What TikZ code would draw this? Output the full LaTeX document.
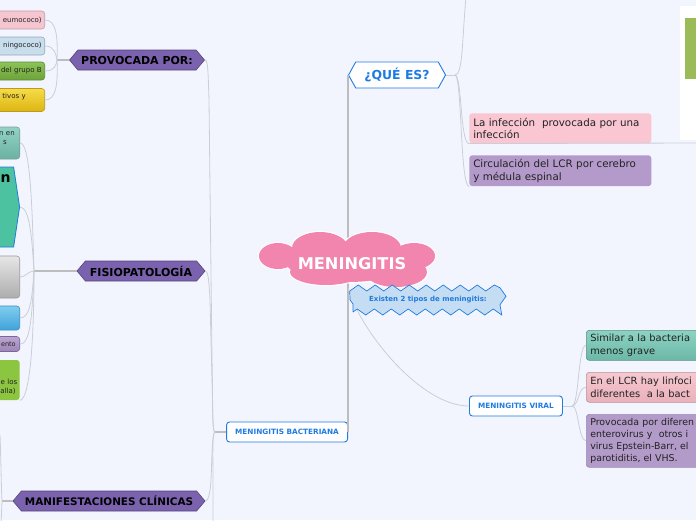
\documentclass[tikz,border=0pt]{standalone}
\usepackage{fontspec}
\setmainfont{DejaVu Sans}
\usetikzlibrary{shapes.symbols,shapes.geometric,decorations.pathmorphing}

\definecolor{fondo}{HTML}{F2F5FE}
\definecolor{rosa}{HTML}{F285AD}
\definecolor{azul}{HTML}{1F7BE0}
\definecolor{morado}{HTML}{7B62AE}
\definecolor{linea}{HTML}{CACED6}
\definecolor{tronco}{HTML}{BDBDBD}
\definecolor{celeste}{HTML}{C5DDF2}
\definecolor{texto}{HTML}{222222}
\definecolor{verde}{HTML}{9BBB59}

\tikzset{
  conn/.style={draw=linea, line width=0.8pt},
  trunk/.style={draw=tronco, line width=2pt},
  hexa/.style={signal, signal to=west and east, signal pointer angle=100, fill=morado,
    draw=morado!70!black, line width=0.6pt, font=\bfseries\fontsize{11}{13}\selectfont,
    minimum height=20pt, inner sep=0pt},
  azulbox/.style={rectangle, rounded corners=3pt, fill=white, draw=azul, line width=0.9pt,
    text=azul, font=\bfseries\fontsize{7.3}{9}\selectfont, minimum height=20pt, inner sep=0pt},
  chip/.style={rectangle, rounded corners=3pt, anchor=east, text width=72pt, align=right,
    inner sep=3pt, font=\fontsize{7}{9}\selectfont, line width=0.6pt, minimum height=18pt, text=texto},
  leaf/.style={rectangle, rounded corners=3pt, anchor=north west, align=left, inner sep=4pt,
    font=\fontsize{10.3}{12.5}\selectfont, text=texto, line width=0.6pt},
  puff/.style={fill=rosa}
}

\begin{document}
\begin{tikzpicture}[x=1pt,y=-1pt]

\useasboundingbox (0,0) rectangle (696,520);
\fill[fondo] (0,0) rectangle (696,520);
\clip (0,0) rectangle (696,520);

\fill[white] (680,6) rectangle (700,140);
\fill[verde] (685,18) rectangle (700,79);

% junctions and free ends
\coordinate (qj) at (455,75);
\coordinate (arriba) at (466,-3);
\coordinate (derecha) at (700,143);
\coordinate (bj) at (215,432);
\coordinate (abajo) at (213,525);
\coordinate (pj) at (57,60);
\coordinate (fj) at (34,271);
\coordinate (mj) at (2,501);
\coordinate (mup) at (0,435);
\coordinate (mdown) at (1,525);
\coordinate (vj) at (572,406);

% nodes
\node (que) [signal, signal to=west and east, signal pointer angle=122, fill=white, draw=azul,
  line width=0.9pt, text=azul, font=\bfseries\fontsize{12.4}{14}\selectfont,
  minimum width=97pt, minimum height=26pt, inner sep=0pt, anchor=west] at (348,75) {¿QUÉ ES?};
\node (inf) [leaf, fill={rgb,255:red,249;green,198;blue,209}, text width=174pt, minimum height=30pt]
  at (469,113) {La infección\ \ provocada por una\\infección};
\node (circ) [leaf, fill={rgb,255:red,180;green,154;blue,202}, text width=174pt, minimum height=30pt]
  at (469,155) {Circulación del LCR por cerebro\\y médula espinal};

\node (bact) [azulbox, minimum width=121pt, anchor=east] at (348,432) {MENINGITIS BACTERIANA};
\node (viral) [azulbox, minimum width=93pt, anchor=west] at (469,406) {MENINGITIS VIRAL};

\node (v1) [leaf, top color={rgb,255:red,141;green,211;blue,194}, bottom color={rgb,255:red,108;green,183;blue,166},
  draw={rgb,255:red,94;green,143;blue,134}, text width=150pt, minimum height=30pt,
  font=\fontsize{9.9}{12.5}\selectfont] at (586,330) {Similar a la bacteria\\menos grave};
\node (v2) [leaf, top color={rgb,255:red,247;green,201;blue,208}, bottom color={rgb,255:red,233;green,176;blue,186},
  draw={rgb,255:red,184;green,148;blue,154}, text width=150pt, minimum height=30pt,
  font=\fontsize{9.9}{12.5}\selectfont] at (586,372) {En el LCR hay linfoci\\diferentes\ \ a la bact};
\node (v3) [leaf, fill={rgb,255:red,179;green,155;blue,201}, draw={rgb,255:red,158;green,139;blue,184},
  text width=150pt, minimum height=53pt, font=\fontsize{9.4}{12}\selectfont]
  at (586,414) {Provocada por diferen\\enterovirus y\ \ otros i\\virus Epstein-Barr, el\\parotiditis, el VHS.};

\node (prov) [hexa, minimum width=135pt] at (137,60) {PROVOCADA POR:};
\node (fisio) [hexa, minimum width=128pt] at (141,271) {FISIOPATOLOGÍA};
\node (mani) [hexa, minimum width=192pt, font=\bfseries\fontsize{10.4}{12}\selectfont] at (109,501) {MANIFESTACIONES CLÍNICAS};

\node (p1) [chip, fill={rgb,255:red,246;green,198;blue,208}, draw={rgb,255:red,191;green,158;blue,166}]
  at (45,20) {eumococo)};
\node (p2) [chip, fill={rgb,255:red,201;green,222;blue,236}, draw={rgb,255:red,147;green,169;blue,186}]
  at (45,46) {ningococo)};
\node (p3) [chip, top color={rgb,255:red,140;green,196;blue,85}, bottom color={rgb,255:red,110;green,162;blue,58},
  draw={rgb,255:red,94;green,138;blue,58}] at (45,71) {del grupo B};
\node (p4) [chip, top color={rgb,255:red,245;green,220;blue,72}, bottom color={rgb,255:red,221;green,181;blue,18},
  draw={rgb,255:red,185;green,154;blue,32}, minimum height=23pt] at (45,100) {tivos y\rule{16pt}{0pt}\\\mbox{}};

\node (f1) [chip, top color={rgb,255:red,146;green,211;blue,197}, bottom color={rgb,255:red,106;green,178;blue,163},
  draw={rgb,255:red,122;green,159;blue,152}, minimum height=32pt, inner sep=5pt] at (20,143)
  {n en\\s\rule{8pt}{0pt}\\\mbox{}};
\node (f2) [signal, signal to=east, signal pointer angle=163, anchor=east,
  fill={rgb,255:red,76;green,194;blue,160}, draw=azul, line width=0.8pt,
  minimum width=100pt, minimum height=80pt] at (20,207) {};
\node (f2t) [anchor=west, font=\bfseries\fontsize{14}{16}\selectfont, text=black, inner sep=0pt] at (0.5,179) {n};
\node (f3) [chip, top color={rgb,255:red,230;green,230;blue,230}, bottom color={rgb,255:red,173;green,173;blue,173},
  draw={rgb,255:red,154;green,154;blue,154}, minimum height=42pt] at (20,277) {};
\node (f4) [chip, top color={rgb,255:red,127;green,205;blue,240}, bottom color={rgb,255:red,63;green,163;blue,217},
  draw={rgb,255:red,62;green,140;blue,192}, minimum height=24pt] at (20,318) {};
\node (f5) [chip, top color={rgb,255:red,188;green,165;blue,208}, bottom color={rgb,255:red,156;green,133;blue,184},
  draw={rgb,255:red,124;green,103;blue,154}, minimum height=15pt, inner sep=4pt,
  font=\fontsize{6.5}{8}\selectfont] at (20,344) {ento};
\node (f6) [chip, fill={rgb,255:red,140;green,197;blue,64}, minimum height=40pt, inner sep=2.5pt,
  font=\fontsize{7}{9.5}\selectfont] at (20,380) {\mbox{}\\\mbox{}\\e los\\alla)\rule{1.5pt}{0pt}};

% connectors
\draw[trunk] (que.west) -- (bact.east);
\draw[conn] (que.east) -- (qj);
\draw[conn] (qj) .. controls (463,75) and (462,40) .. (arriba);
\draw[conn] (qj) .. controls (462,75) and (460,143) .. (inf.south west);
\draw[conn] (inf.south west) -- (derecha);
\draw[conn] (qj) .. controls (462,75) and (460,185) .. (circ.south west);

\draw[conn] (348,288) .. controls (360,330) and (420,406) .. (viral.west);
\draw[conn] (viral.east) -- (vj);
\draw[conn] (vj) .. controls (579,406) and (578,345) .. (v1.west);
\draw[conn] (vj) .. controls (579,406) and (578,387) .. (v2.west);
\draw[conn] (vj) .. controls (579,406) and (578,440) .. (v3.west);

\draw[tronco, line width=1.5pt] (bact.west) -- (bj);
\draw[conn] (bj) .. controls (212,432) and (213,400) .. (212,360) -- (209,100) .. controls (208,70) and (208,60) .. (prov.east);
\draw[conn] (bj) .. controls (212,432) and (213,410) .. (212,380) -- (210,300) .. controls (209,280) and (208,271) .. (fisio.east);
\draw[conn] (bj) .. controls (212,432) and (212,460) .. (211,480) .. controls (210,495) and (208,501) .. (mani.east);
\draw[conn] (bj) .. controls (212,432) and (213,460) .. (213,480) -- (abajo);

\draw[tronco, line width=1.2pt] (prov.west) -- (pj);
\draw[conn] (pj) .. controls (58,35) and (56,20) .. (p1.east);
\draw[conn] (pj) .. controls (56,55) and (55,46) .. (p2.east);
\draw[conn] (pj) .. controls (56,65) and (55,71) .. (p3.east);
\draw[conn] (pj) .. controls (58,85) and (56,100) .. (p4.east);

\draw[tronco, line width=1.2pt] (fisio.west) -- (fj);
\draw[conn] (fj) .. controls (32,200) and (30,143) .. (f1.east);
\draw[conn] (fj) .. controls (32,240) and (30,207) .. (f2.east);
\draw[conn] (fj) .. controls (28,271) and (26,277) .. (f3.east);
\draw[conn] (fj) .. controls (32,300) and (30,318) .. (f4.east);
\draw[conn] (fj) .. controls (32,320) and (30,344) .. (f5.east);
\draw[conn] (fj) .. controls (34,340) and (30,399) .. (f6.south east);

\draw[tronco, line width=1.2pt] (mani.west) -- (mj);
\draw[conn] (mj) .. controls (1,480) and (1,460) .. (mup);
\draw[conn] (mj) -- (mdown);

% centre cloud
\foreach \cx/\cy/\rx/\ry in {278/256/19/13, 320/248/28/16, 372/248/29/16, 414/256/21/13,
    396/272/31/15, 326/272/36/13, 348/262/62/20} {
  \draw[white, line width=2.2pt] (\cx,\cy) ellipse [x radius=\rx, y radius=\ry];
}
\foreach \cx/\cy/\rx/\ry in {278/256/19/13, 320/248/28/16, 372/248/29/16, 414/256/21/13,
    396/272/31/15, 326/272/36/13, 348/262/62/20} {
  \fill[puff] (\cx,\cy) ellipse [x radius=\rx, y radius=\ry];
}
\node (root) [text=white, font=\bfseries\fontsize{16.2}{18}\selectfont, inner sep=0pt]
  at (352,264) {MENINGITIS};
\node (exist) [rectangle, fill=celeste, draw=azul, line width=0.7pt, decorate,
  decoration={zigzag, segment length=17pt, amplitude=3pt}, minimum width=150pt, minimum height=24pt,
  text=azul, font=\bfseries\fontsize{7}{8}\selectfont] at (428,300) {Existen 2 tipos de meningitis:};

\end{tikzpicture}
\end{document}
